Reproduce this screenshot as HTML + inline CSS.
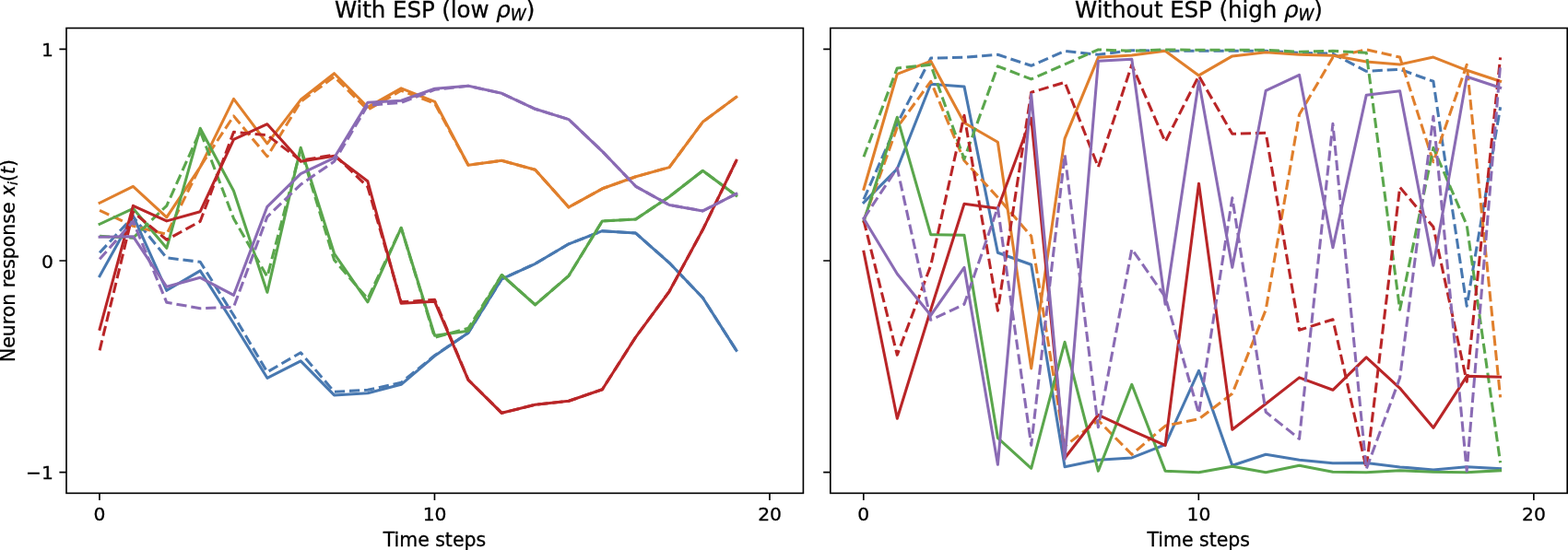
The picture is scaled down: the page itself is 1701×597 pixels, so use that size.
<!DOCTYPE html>
<html lang="en"><head><meta charset="utf-8"><title>Echo state property: neuron responses</title>
<style>
html,body{margin:0;padding:0;background:#fff;}
body{width:1701px;height:597px;overflow:hidden;}
svg{display:block;}
text{font-family:"DejaVu Sans","Liberation Sans",sans-serif;fill:#000;stroke:#000;stroke-width:0.3px;}
.tk{font-size:20.3px;}
.lb{font-size:20.45px;}
.ti{font-size:24.5px;}
.it{font-style:italic;}
.ln{fill:none;stroke-width:3.05;stroke-linejoin:round;}
.s{stroke-linecap:square;}
.d{stroke-linecap:butt;stroke-dasharray:11.2 4.88;}
.fr{fill:none;stroke:#000;stroke-width:1.63;stroke-linejoin:miter;stroke-linecap:square;}
.t{stroke:#000;stroke-width:1.63;fill:none;}
</style></head><body>
<svg width="1701" height="597" viewBox="0 0 1701 597">
<rect x="0" y="0" width="1701" height="597" fill="#fff"/>
<g>
<path class="ln s" stroke="#4878b0" d="M108.1,299.7 L144.4,234.3 L180.8,315.3 L217.2,293.9 L253.5,351.3 L289.9,410.3 L326.2,391.9 L362.6,428.9 L398.9,426.7 L435.2,417.3 L471.6,386.3 L508.0,361.3 L544.3,302.8 L580.6,286.3 L617.0,264.8 L653.4,250.7 L689.7,253.1 L726.1,285.3 L762.4,323.3 L798.8,380.3"/>
<path class="ln d" stroke="#4878b0" d="M108.1,274.3 L144.4,235.3 L180.8,279.9 L217.2,284.3 L253.5,342.3 L289.9,403.9 L326.2,382.7 L362.6,425.3 L398.9,423.3 L435.2,415.3 L471.6,385.8 L508.0,361.3 L544.3,302.8 L580.6,286.3 L617.0,264.8 L653.4,250.7 L689.7,253.1 L726.1,285.3 L762.4,323.3 L798.8,380.3"/>
<path class="ln s" stroke="#e07f2c" d="M108.1,220.3 L144.4,202.3 L180.8,235.9 L217.2,181.3 L253.5,107.3 L289.9,155.9 L326.2,108.3 L362.6,79.7 L398.9,116.3 L435.2,95.9 L471.6,110.3 L508.0,179.3 L544.3,174.3 L580.6,184.3 L617.0,224.9 L653.4,204.8 L689.7,191.8 L726.1,181.6 L762.4,132.3 L798.8,105.3"/>
<path class="ln d" stroke="#e07f2c" d="M108.1,228.3 L144.4,245.3 L180.8,254.3 L217.2,180.8 L253.5,125.9 L289.9,169.9 L326.2,110.3 L362.6,83.3 L398.9,119.3 L435.2,98.3 L471.6,112.3 L508.0,179.3 L544.3,174.3 L580.6,184.3 L617.0,224.9 L653.4,204.8 L689.7,191.8 L726.1,181.6 L762.4,132.3 L798.8,105.3"/>
<path class="ln s" stroke="#5aa64c" d="M108.1,243.3 L144.4,226.3 L180.8,269.3 L217.2,139.3 L253.5,207.3 L289.9,317.3 L326.2,160.3 L362.6,275.3 L398.9,327.8 L435.2,247.3 L471.6,364.3 L508.0,359.3 L544.3,298.5 L580.6,330.8 L617.0,299.3 L653.4,239.9 L689.7,237.9 L726.1,213.5 L762.4,185.3 L798.8,212.3"/>
<path class="ln d" stroke="#5aa64c" d="M108.1,256.3 L144.4,258.3 L180.8,223.3 L217.2,142.3 L253.5,237.3 L289.9,300.3 L326.2,162.3 L362.6,282.3 L398.9,324.3 L435.2,247.3 L471.6,366.3 L508.0,356.3 L544.3,298.5 L580.6,330.8 L617.0,299.3 L653.4,239.9 L689.7,237.9 L726.1,213.5 L762.4,185.3 L798.8,212.3"/>
<path class="ln s" stroke="#b92527" d="M108.1,357.3 L144.4,223.3 L180.8,239.9 L217.2,229.7 L253.5,151.3 L289.9,134.7 L326.2,175.3 L362.6,169.3 L398.9,196.8 L435.2,329.3 L471.6,327.3 L508.0,412.3 L544.3,448.3 L580.6,439.3 L617.0,435.3 L653.4,422.7 L689.7,365.8 L726.1,316.3 L762.4,249.3 L798.8,174.3"/>
<path class="ln d" stroke="#b92527" d="M108.1,380.3 L144.4,230.3 L180.8,260.3 L217.2,240.3 L253.5,143.3 L289.9,146.7 L326.2,174.3 L362.6,167.9 L398.9,202.8 L435.2,327.8 L471.6,325.3 L508.0,412.3 L544.3,448.3 L580.6,439.3 L617.0,435.3 L653.4,422.7 L689.7,365.8 L726.1,316.3 L762.4,249.3 L798.8,174.3"/>
<path class="ln s" stroke="#8a6bb4" d="M108.1,257.3 L144.4,256.7 L180.8,311.3 L217.2,301.3 L253.5,320.3 L289.9,224.3 L326.2,188.7 L362.6,171.3 L398.9,111.3 L435.2,109.3 L471.6,96.3 L508.0,93.3 L544.3,101.3 L580.6,118.3 L617.0,129.6 L653.4,164.3 L689.7,202.3 L726.1,222.5 L762.4,228.9 L798.8,210.3"/>
<path class="ln d" stroke="#8a6bb4" d="M108.1,281.3 L144.4,240.3 L180.8,328.3 L217.2,334.7 L253.5,333.3 L289.9,235.3 L326.2,200.3 L362.6,175.3 L398.9,114.3 L435.2,111.3 L471.6,97.3 L508.0,93.3 L544.3,101.3 L580.6,118.3 L617.0,129.6 L653.4,164.3 L689.7,202.3 L726.1,222.5 L762.4,228.9 L798.8,210.3"/>
<path class="t" d="M107.95,535.35 v7.6 M471.45,535.35 v7.6 M834.95,535.35 v7.6 M72.00,53.40 h-7.6 M72.00,283.00 h-7.6 M72.00,512.60 h-7.6"/>
<rect class="fr" x="72.00" y="30.50" width="799.40" height="504.85"/>
<text class="tk" x="107.95" y="565.3" text-anchor="middle">0</text>
<text class="tk" x="471.60" y="565.3" text-anchor="middle">10</text>
<text class="tk" x="835.10" y="565.3" text-anchor="middle">20</text>
<text class="lb" x="471.40" y="592.9" text-anchor="middle">Time steps</text>
<text class="ti" x="362.90" y="18.60" letter-spacing="-0.06">With ESP (low <tspan class="it">ρ</tspan><tspan class="it" font-size="17.15" dy="3.8">W</tspan><tspan dy="-3.8">)</tspan></text>
</g>
<g>
<path class="ln s" stroke="#4878b0" d="M937.0,219.8 L973.3,183.3 L1009.7,91.3 L1046.0,93.9 L1082.4,274.3 L1118.7,287.3 L1155.1,506.7 L1191.4,499.3 L1227.8,496.9 L1264.1,482.7 L1300.5,402.3 L1336.8,505.3 L1373.2,493.3 L1409.5,499.3 L1445.9,502.7 L1482.2,502.5 L1518.6,506.9 L1554.9,509.9 L1591.2,506.7 L1627.6,508.7"/>
<path class="ln d" stroke="#4878b0" d="M937.0,216.3 L973.3,134.3 L1009.7,63.1 L1046.0,62.3 L1082.4,59.3 L1118.7,71.3 L1155.1,55.3 L1191.4,59.3 L1227.8,54.7 L1264.1,55.3 L1300.5,55.3 L1336.8,55.3 L1373.2,55.3 L1409.5,57.3 L1445.9,58.3 L1482.2,77.3 L1518.6,75.3 L1554.9,88.3 L1591.2,332.3 L1627.6,116.3"/>
<path class="ln s" stroke="#e07f2c" d="M937.0,205.3 L973.3,80.3 L1009.7,66.3 L1046.0,133.3 L1082.4,154.3 L1118.7,399.9 L1155.1,150.3 L1191.4,62.3 L1227.8,59.9 L1264.1,55.3 L1300.5,81.9 L1336.8,60.9 L1373.2,56.7 L1409.5,59.3 L1445.9,60.3 L1482.2,66.9 L1518.6,69.9 L1554.9,62.1 L1591.2,76.3 L1627.6,88.3"/>
<path class="ln d" stroke="#e07f2c" d="M937.0,239.3 L973.3,138.3 L1009.7,88.3 L1046.0,174.3 L1082.4,214.3 L1118.7,256.3 L1155.1,484.3 L1191.4,456.3 L1227.8,493.3 L1264.1,462.3 L1300.5,454.8 L1336.8,427.3 L1373.2,336.3 L1409.5,124.3 L1445.9,62.3 L1482.2,53.9 L1518.6,62.1 L1554.9,175.8 L1591.2,70.3 L1627.6,431.3"/>
<path class="ln s" stroke="#5aa64c" d="M937.0,240.3 L973.3,127.3 L1009.7,254.7 L1046.0,255.3 L1082.4,475.3 L1118.7,508.3 L1155.1,371.3 L1191.4,511.3 L1227.8,417.3 L1264.1,511.3 L1300.5,512.7 L1336.8,506.3 L1373.2,512.7 L1409.5,505.3 L1445.9,512.3 L1482.2,512.7 L1518.6,510.7 L1554.9,512.3 L1591.2,512.7 L1627.6,510.7"/>
<path class="ln d" stroke="#5aa64c" d="M937.0,170.3 L973.3,73.9 L1009.7,70.3 L1046.0,172.8 L1082.4,71.9 L1118.7,85.9 L1155.1,69.8 L1191.4,53.9 L1227.8,55.3 L1264.1,53.9 L1300.5,54.3 L1336.8,54.3 L1373.2,54.3 L1409.5,56.3 L1445.9,55.3 L1482.2,57.3 L1518.6,336.3 L1554.9,160.3 L1591.2,244.3 L1627.6,502.3"/>
<path class="ln s" stroke="#b92527" d="M937.0,273.3 L973.3,454.3 L1009.7,336.3 L1046.0,221.3 L1082.4,226.3 L1118.7,128.3 L1155.1,497.3 L1191.4,450.3 L1227.8,467.3 L1264.1,483.3 L1300.5,199.3 L1336.8,466.3 L1373.2,438.3 L1409.5,409.9 L1445.9,423.3 L1482.2,387.9 L1518.6,421.3 L1554.9,464.3 L1591.2,408.3 L1627.6,409.3"/>
<path class="ln d" stroke="#b92527" d="M937.0,239.3 L973.3,385.3 L1009.7,288.3 L1046.0,125.3 L1082.4,337.3 L1118.7,100.3 L1155.1,89.3 L1191.4,181.3 L1227.8,70.3 L1264.1,153.9 L1300.5,82.3 L1336.8,145.3 L1373.2,144.3 L1409.5,358.3 L1445.9,346.7 L1482.2,508.3 L1518.6,203.3 L1554.9,246.3 L1591.2,414.3 L1627.6,62.3"/>
<path class="ln s" stroke="#8a6bb4" d="M937.0,237.3 L973.3,297.3 L1009.7,342.3 L1046.0,290.3 L1082.4,504.3 L1118.7,102.3 L1155.1,498.3 L1191.4,66.3 L1227.8,64.3 L1264.1,330.3 L1300.5,88.3 L1336.8,290.3 L1373.2,98.3 L1409.5,81.3 L1445.9,268.8 L1482.2,103.3 L1518.6,98.7 L1554.9,288.3 L1591.2,83.3 L1627.6,95.3"/>
<path class="ln d" stroke="#8a6bb4" d="M937.0,237.3 L973.3,182.3 L1009.7,347.3 L1046.0,330.3 L1082.4,225.3 L1118.7,483.3 L1155.1,167.8 L1191.4,463.8 L1227.8,270.3 L1264.1,322.3 L1300.5,448.8 L1336.8,214.8 L1373.2,447.3 L1409.5,476.3 L1445.9,134.3 L1482.2,509.3 L1518.6,410.3 L1554.9,126.3 L1591.2,511.3 L1627.6,70.3"/>
<path class="t" d="M936.80,535.35 v7.6 M1300.30,535.35 v7.6 M1663.85,535.35 v7.6 M900.80,53.40 h-7.6 M900.80,283.00 h-7.6 M900.80,512.60 h-7.6"/>
<rect class="fr" x="900.80" y="30.50" width="799.40" height="504.85"/>
<text class="tk" x="936.80" y="565.3" text-anchor="middle">0</text>
<text class="tk" x="1300.45" y="565.3" text-anchor="middle">10</text>
<text class="tk" x="1664.00" y="565.3" text-anchor="middle">20</text>
<text class="lb" x="1300.20" y="592.9" text-anchor="middle">Time steps</text>
<text class="ti" x="1166.10" y="18.60" letter-spacing="-0.06">Without ESP (high <tspan class="it">ρ</tspan><tspan class="it" font-size="17.15" dy="3.8">W</tspan><tspan dy="-3.8">)</tspan></text>
</g>
<text class="tk" x="58.0" y="61.30" text-anchor="end">1</text>
<text class="tk" x="58.0" y="291.30" text-anchor="end">0</text>
<text class="tk" x="58.0" y="520.40" text-anchor="end">−1</text>
<text class="lb" transform="translate(15.5,283.0) rotate(-90)" text-anchor="middle">Neuron response <tspan class="it">x</tspan><tspan class="it" font-size="14.3" dy="3.2">i</tspan><tspan dy="-3.2">(</tspan><tspan class="it">t</tspan>)</text>
</svg>
</body></html>
